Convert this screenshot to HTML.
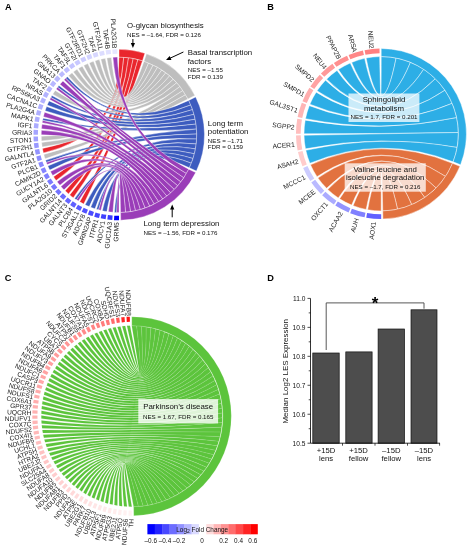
<!DOCTYPE html>
<html lang="en">
<head>
<meta charset="utf-8">
<title>Figure</title>
<style>
html,body{margin:0;padding:0;background:#fff;}
body{width:471px;height:550px;overflow:hidden;font-family:"Liberation Sans",sans-serif;}
svg{display:block;}
svg text{font-family:"Liberation Sans",sans-serif;}
</style>
</head>
<body>
<svg width="471" height="550" viewBox="0 0 471 550" font-family='Liberation Sans, sans-serif'>
<rect width="471" height="550" fill="#fff"/>
<g font-size="9.2" font-weight="bold" fill="#000">
<text x="5" y="9.7">A</text>
<text x="267.2" y="9.7">B</text>
<text x="4.8" y="280.9">C</text>
<text x="267.2" y="280.9">D</text>
</g>
<!-- A -->
<g stroke="#fff" stroke-width="0.38" stroke-linejoin="round">
<g fill="#e9262d">
<path d="M119 57.07Q119 134.8 42.49 148.49A77.73 77.73 0 0 0 43.42 152.95Q119 134.8 123.77 57.22A77.73 77.73 0 0 0 119 57.07Z"/>
<path d="M123.77 57.22Q119 134.8 53.55 176.73A77.73 77.73 0 0 0 56.12 180.49Q119 134.8 128.53 57.66A77.73 77.73 0 0 0 123.77 57.22Z"/>
<path d="M128.53 57.66Q119 134.8 65.15 190.85A77.73 77.73 0 0 0 68.52 193.9Q119 134.8 133.25 58.39A77.73 77.73 0 0 0 128.53 57.66Z"/>
<path d="M133.25 58.39Q119 134.8 69.71 194.9A77.73 77.73 0 0 0 73.31 197.68Q119 134.8 137.91 59.41A77.73 77.73 0 0 0 133.25 58.39Z"/>
<path d="M137.91 59.41Q119 134.8 79.72 201.87A77.73 77.73 0 0 0 83.71 204.06Q119 134.8 142.51 60.71A77.73 77.73 0 0 0 137.91 59.41Z"/>
</g>
<g fill="#bebebe">
<path d="M143.98 61.2Q119 134.8 111.35 57.45A77.73 77.73 0 0 0 106.84 58.03Q119 134.8 148.63 62.94A77.73 77.73 0 0 0 143.98 61.2Z"/>
<path d="M148.63 62.94Q119 134.8 105.31 58.29A77.73 77.73 0 0 0 100.85 59.22Q119 134.8 153.15 64.97A77.73 77.73 0 0 0 148.63 62.94Z"/>
<path d="M153.15 64.97Q119 134.8 99.35 59.6A77.73 77.73 0 0 0 94.98 60.88Q119 134.8 157.53 67.29A77.73 77.73 0 0 0 153.15 64.97Z"/>
<path d="M157.53 67.29Q119 134.8 93.51 61.37A77.73 77.73 0 0 0 89.26 62.99Q119 134.8 161.75 69.89A77.73 77.73 0 0 0 157.53 67.29Z"/>
<path d="M161.75 69.89Q119 134.8 87.82 63.6A77.73 77.73 0 0 0 83.71 65.54Q119 134.8 165.8 72.74A77.73 77.73 0 0 0 161.75 69.89Z"/>
<path d="M165.8 72.74Q119 134.8 82.33 66.26A77.73 77.73 0 0 0 78.39 68.53Q119 134.8 169.66 75.85A77.73 77.73 0 0 0 165.8 72.74Z"/>
<path d="M169.66 75.85Q119 134.8 77.07 69.35A77.73 77.73 0 0 0 73.31 71.92Q119 134.8 173.32 79.2A77.73 77.73 0 0 0 169.66 75.85Z"/>
<path d="M173.32 79.2Q119 134.8 72.06 72.84A77.73 77.73 0 0 0 68.52 75.7Q119 134.8 176.75 82.78A77.73 77.73 0 0 0 173.32 79.2Z"/>
<path d="M176.75 82.78Q119 134.8 55.22 90.38A77.73 77.73 0 0 0 52.73 94.19Q119 134.8 179.95 86.56A77.73 77.73 0 0 0 176.75 82.78Z"/>
<path d="M179.95 86.56Q119 134.8 41.29 136.35A77.73 77.73 0 0 0 41.51 140.9Q119 134.8 182.9 90.55A77.73 77.73 0 0 0 179.95 86.56Z"/>
<path d="M182.9 90.55Q119 134.8 41.65 142.45A77.73 77.73 0 0 0 42.23 146.96Q119 134.8 185.59 94.71A77.73 77.73 0 0 0 182.9 90.55Z"/>
<path d="M185.59 94.71Q119 134.8 43.8 154.45A77.73 77.73 0 0 0 45.08 158.82Q119 134.8 188.01 99.03A77.73 77.73 0 0 0 185.59 94.71Z"/>
</g>
<g fill="#3d5cbf">
<path d="M188.71 100.42Q119 134.8 67.35 76.72A77.73 77.73 0 0 0 65.67 78.25Q119 134.8 190.77 104.95A77.73 77.73 0 0 0 188.71 100.42Z"/>
<path d="M190.77 104.95Q119 134.8 58.9 85.51A77.73 77.73 0 0 0 57.48 87.29Q119 134.8 192.53 109.61A77.73 77.73 0 0 0 190.77 104.95Z"/>
<path d="M192.53 109.61Q119 134.8 51.93 95.52A77.73 77.73 0 0 0 50.81 97.5Q119 134.8 193.99 114.36A77.73 77.73 0 0 0 192.53 109.61Z"/>
<path d="M193.99 114.36Q119 134.8 49.05 100.9A77.73 77.73 0 0 0 47.19 105.06Q119 134.8 195.15 119.2A77.73 77.73 0 0 0 193.99 114.36Z"/>
<path d="M195.15 119.2Q119 134.8 46.61 106.5A77.73 77.73 0 0 0 45.08 110.78Q119 134.8 195.99 124.1A77.73 77.73 0 0 0 195.15 119.2Z"/>
<path d="M195.99 124.1Q119 134.8 43.07 118.17A77.73 77.73 0 0 0 42.62 120.4Q119 134.8 196.51 129.05A77.73 77.73 0 0 0 195.99 124.1Z"/>
<path d="M196.51 129.05Q119 134.8 45.57 160.29A77.73 77.73 0 0 0 46.35 162.43Q119 134.8 196.72 134.02A77.73 77.73 0 0 0 196.51 129.05Z"/>
<path d="M196.72 134.02Q119 134.8 47.8 165.98A77.73 77.73 0 0 0 49.74 170.09Q119 134.8 196.61 139A77.73 77.73 0 0 0 196.72 134.02Z"/>
<path d="M196.61 139Q119 134.8 74.58 198.58A77.73 77.73 0 0 0 76.47 199.86Q119 134.8 196.19 143.95A77.73 77.73 0 0 0 196.61 139Z"/>
<path d="M196.19 143.95Q119 134.8 85.1 204.75A77.73 77.73 0 0 0 89.26 206.61Q119 134.8 195.44 148.87A77.73 77.73 0 0 0 196.19 143.95Z"/>
<path d="M195.44 148.87Q119 134.8 90.7 207.19A77.73 77.73 0 0 0 94.98 208.72Q119 134.8 194.39 153.74A77.73 77.73 0 0 0 195.44 148.87Z"/>
<path d="M194.39 153.74Q119 134.8 96.46 209.19A77.73 77.73 0 0 0 98.65 209.82Q119 134.8 193.02 158.52A77.73 77.73 0 0 0 194.39 153.74Z"/>
<path d="M193.02 158.52Q119 134.8 102.37 210.73A77.73 77.73 0 0 0 106.84 211.57Q119 134.8 191.35 163.21A77.73 77.73 0 0 0 193.02 158.52Z"/>
<path d="M191.35 163.21Q119 134.8 114.45 212.39A77.73 77.73 0 0 0 116.73 212.49Q119 134.8 189.39 167.78A77.73 77.73 0 0 0 191.35 163.21Z"/>
</g>
<g fill="#9a3db8">
<path d="M188.71 169.18Q119 134.8 117.45 57.09A77.73 77.73 0 0 0 112.9 57.31Q119 134.8 186.36 173.58A77.73 77.73 0 0 0 188.71 169.18Z"/>
<path d="M186.36 173.58Q119 134.8 65.67 78.25A77.73 77.73 0 0 0 64.04 79.84Q119 134.8 183.73 177.83A77.73 77.73 0 0 0 186.36 173.58Z"/>
<path d="M183.73 177.83Q119 134.8 62.95 80.95A77.73 77.73 0 0 0 59.9 84.32Q119 134.8 180.83 181.9A77.73 77.73 0 0 0 183.73 177.83Z"/>
<path d="M180.83 181.9Q119 134.8 57.48 87.29A77.73 77.73 0 0 0 56.12 89.11Q119 134.8 177.68 185.77A77.73 77.73 0 0 0 180.83 181.9Z"/>
<path d="M177.68 185.77Q119 134.8 50.81 97.5A77.73 77.73 0 0 0 49.74 99.51Q119 134.8 174.28 189.44A77.73 77.73 0 0 0 177.68 185.77Z"/>
<path d="M174.28 189.44Q119 134.8 44.61 112.26A77.73 77.73 0 0 0 43.42 116.65Q119 134.8 170.66 192.88A77.73 77.73 0 0 0 174.28 189.44Z"/>
<path d="M170.66 192.88Q119 134.8 42.62 120.4A77.73 77.73 0 0 0 42.23 122.64Q119 134.8 166.82 196.07A77.73 77.73 0 0 0 170.66 192.88Z"/>
<path d="M166.82 196.07Q119 134.8 42 124.18A77.73 77.73 0 0 0 41.51 128.7Q119 134.8 162.79 199.02A77.73 77.73 0 0 0 166.82 196.07Z"/>
<path d="M162.79 199.02Q119 134.8 41.41 130.25A77.73 77.73 0 0 0 41.27 134.8Q119 134.8 158.57 201.7A77.73 77.73 0 0 0 162.79 199.02Z"/>
<path d="M158.57 201.7Q119 134.8 46.35 162.43A77.73 77.73 0 0 0 47.19 164.54Q119 134.8 154.2 204.1A77.73 77.73 0 0 0 158.57 201.7Z"/>
<path d="M154.2 204.1Q119 134.8 50.46 171.47A77.73 77.73 0 0 0 52.73 175.41Q119 134.8 149.67 206.22A77.73 77.73 0 0 0 154.2 204.1Z"/>
<path d="M149.67 206.22Q119 134.8 57.04 181.74A77.73 77.73 0 0 0 59.9 185.28Q119 134.8 145.02 208.04A77.73 77.73 0 0 0 149.67 206.22Z"/>
<path d="M145.02 208.04Q119 134.8 60.92 186.45A77.73 77.73 0 0 0 64.04 189.76Q119 134.8 140.26 209.56A77.73 77.73 0 0 0 145.02 208.04Z"/>
<path d="M140.26 209.56Q119 134.8 76.47 199.86A77.73 77.73 0 0 0 78.39 201.07Q119 134.8 135.42 210.77A77.73 77.73 0 0 0 140.26 209.56Z"/>
<path d="M135.42 210.77Q119 134.8 98.65 209.82A77.73 77.73 0 0 0 100.85 210.38Q119 134.8 130.5 211.67A77.73 77.73 0 0 0 135.42 210.77Z"/>
<path d="M130.5 211.67Q119 134.8 108.38 211.8A77.73 77.73 0 0 0 112.9 212.29Q119 134.8 125.54 212.25A77.73 77.73 0 0 0 130.5 211.67Z"/>
<path d="M125.54 212.25Q119 134.8 116.73 212.49A77.73 77.73 0 0 0 119 212.53Q119 134.8 120.55 212.51A77.73 77.73 0 0 0 125.54 212.25Z"/>
</g>
<path fill="#e9262d" d="M119 57.07A77.73 77.73 0 0 1 142.51 60.71L144.86 53.3A85.5 85.5 0 0 0 119 49.3Z"/>
<path fill="#bebebe" d="M143.98 61.2A77.73 77.73 0 0 1 188.01 99.03L194.91 95.46A85.5 85.5 0 0 0 146.48 53.84Z"/>
<path fill="#3d5cbf" d="M188.71 100.42A77.73 77.73 0 0 1 189.39 167.78L196.42 171.07A85.5 85.5 0 0 0 195.68 96.98Z"/>
<path fill="#9a3db8" d="M188.71 169.18A77.73 77.73 0 0 1 120.55 212.51L120.71 220.28A85.5 85.5 0 0 0 195.68 172.62Z"/>
</g>
<g>
<path fill="#e6e6ff" d="M117.38 53.75A81.07 81.07 0 0 0 112.64 53.98L112.29 49.56A85.5 85.5 0 0 1 117.29 49.32Z"/>
<path fill="#e1e1ff" d="M111.02 54.12A81.07 81.07 0 0 0 106.32 54.73L105.62 50.35A85.5 85.5 0 0 1 110.59 49.71Z"/>
<path fill="#dcdcff" d="M104.72 55A81.07 81.07 0 0 0 100.07 55.97L99.04 51.66A85.5 85.5 0 0 1 103.94 50.64Z"/>
<path fill="#d7d7ff" d="M98.5 56.36A81.07 81.07 0 0 0 93.95 57.7L92.58 53.48A85.5 85.5 0 0 1 97.38 52.08Z"/>
<path fill="#d2d2ff" d="M92.41 58.21A81.07 81.07 0 0 0 87.98 59.9L86.28 55.81A85.5 85.5 0 0 1 90.96 54.03Z"/>
<path fill="#cdcdff" d="M86.48 60.54A81.07 81.07 0 0 0 82.2 62.57L80.18 58.62A85.5 85.5 0 0 1 84.71 56.48Z"/>
<path fill="#c9c9ff" d="M80.76 63.32A81.07 81.07 0 0 0 76.64 65.68L74.33 61.9A85.5 85.5 0 0 1 78.67 59.41Z"/>
<path fill="#c4c4ff" d="M75.27 66.54A81.07 81.07 0 0 0 71.35 69.21L68.74 65.63A85.5 85.5 0 0 1 72.88 62.81Z"/>
<path fill="#bfbfff" d="M70.05 70.18A81.07 81.07 0 0 0 66.35 73.15L63.47 69.79A85.5 85.5 0 0 1 67.37 66.65Z"/>
<path fill="#babaff" d="M65.13 74.22A81.07 81.07 0 0 0 61.68 77.48L58.54 74.34A85.5 85.5 0 0 1 62.18 70.91Z"/>
<path fill="#b8b8ff" d="M60.54 78.63A81.07 81.07 0 0 0 57.35 82.15L53.99 79.27A85.5 85.5 0 0 1 57.35 75.56Z"/>
<path fill="#b7b7ff" d="M56.31 83.39A81.07 81.07 0 0 0 53.41 87.15L49.83 84.54A85.5 85.5 0 0 1 52.89 80.58Z"/>
<path fill="#b5b5ff" d="M52.47 88.47A81.07 81.07 0 0 0 49.88 92.44L46.1 90.13A85.5 85.5 0 0 1 48.84 85.94Z"/>
<path fill="#b3b3ff" d="M49.04 93.83A81.07 81.07 0 0 0 46.77 98L42.82 95.98A85.5 85.5 0 0 1 45.22 91.59Z"/>
<path fill="#b2b2ff" d="M46.04 99.45A81.07 81.07 0 0 0 44.1 103.78L40.01 102.08A85.5 85.5 0 0 1 42.06 97.52Z"/>
<path fill="#b0b0ff" d="M43.5 105.28A81.07 81.07 0 0 0 41.9 109.75L37.68 108.38A85.5 85.5 0 0 1 39.37 103.67Z"/>
<path fill="#aeaeff" d="M41.41 111.3A81.07 81.07 0 0 0 40.17 115.87L35.86 114.84A85.5 85.5 0 0 1 37.17 110.01Z"/>
<path fill="#adadff" d="M39.81 117.45A81.07 81.07 0 0 0 38.93 122.12L34.55 121.42A85.5 85.5 0 0 1 35.48 116.51Z"/>
<path fill="#ababff" d="M38.69 123.72A81.07 81.07 0 0 0 38.18 128.44L33.76 128.09A85.5 85.5 0 0 1 34.3 123.12Z"/>
<path fill="#a5a5ff" d="M38.07 130.06A81.07 81.07 0 0 0 37.93 134.8L33.5 134.8A85.5 85.5 0 0 1 33.65 129.8Z"/>
<path fill="#9f9fff" d="M37.95 136.42A81.07 81.07 0 0 0 38.18 141.16L33.76 141.51A85.5 85.5 0 0 1 33.52 136.51Z"/>
<path fill="#9898ff" d="M38.32 142.78A81.07 81.07 0 0 0 38.93 147.48L34.55 148.18A85.5 85.5 0 0 1 33.91 143.21Z"/>
<path fill="#9292ff" d="M39.2 149.08A81.07 81.07 0 0 0 40.17 153.73L35.86 154.76A85.5 85.5 0 0 1 34.84 149.86Z"/>
<path fill="#8c8cff" d="M40.56 155.3A81.07 81.07 0 0 0 41.9 159.85L37.68 161.22A85.5 85.5 0 0 1 36.28 156.42Z"/>
<path fill="#8888ff" d="M42.41 161.39A81.07 81.07 0 0 0 44.1 165.82L40.01 167.52A85.5 85.5 0 0 1 38.23 162.84Z"/>
<path fill="#8484ff" d="M44.74 167.32A81.07 81.07 0 0 0 46.77 171.6L42.82 173.62A85.5 85.5 0 0 1 40.68 169.09Z"/>
<path fill="#8080ff" d="M47.52 173.04A81.07 81.07 0 0 0 49.88 177.16L46.1 179.47A85.5 85.5 0 0 1 43.61 175.13Z"/>
<path fill="#7b7bff" d="M50.74 178.53A81.07 81.07 0 0 0 53.41 182.45L49.83 185.06A85.5 85.5 0 0 1 47.01 180.92Z"/>
<path fill="#7777ff" d="M54.38 183.75A81.07 81.07 0 0 0 57.35 187.45L53.99 190.33A85.5 85.5 0 0 1 50.85 186.43Z"/>
<path fill="#7373ff" d="M58.42 188.67A81.07 81.07 0 0 0 61.68 192.12L58.54 195.26A85.5 85.5 0 0 1 55.11 191.62Z"/>
<path fill="#6c6cff" d="M62.83 193.26A81.07 81.07 0 0 0 66.35 196.45L63.47 199.81A85.5 85.5 0 0 1 59.76 196.45Z"/>
<path fill="#6666ff" d="M67.59 197.49A81.07 81.07 0 0 0 71.35 200.39L68.74 203.97A85.5 85.5 0 0 1 64.78 200.91Z"/>
<path fill="#5f5fff" d="M72.67 201.33A81.07 81.07 0 0 0 76.64 203.92L74.33 207.7A85.5 85.5 0 0 1 70.14 204.96Z"/>
<path fill="#5959ff" d="M78.03 204.76A81.07 81.07 0 0 0 82.2 207.03L80.18 210.98A85.5 85.5 0 0 1 75.79 208.58Z"/>
<path fill="#5252ff" d="M83.65 207.76A81.07 81.07 0 0 0 87.98 209.7L86.28 213.79A85.5 85.5 0 0 1 81.72 211.74Z"/>
<path fill="#4c4cff" d="M89.48 210.3A81.07 81.07 0 0 0 93.95 211.9L92.58 216.12A85.5 85.5 0 0 1 87.87 214.43Z"/>
<path fill="#4545ff" d="M95.5 212.39A81.07 81.07 0 0 0 100.07 213.63L99.04 217.94A85.5 85.5 0 0 1 94.21 216.63Z"/>
<path fill="#3f3fff" d="M101.65 213.99A81.07 81.07 0 0 0 106.32 214.87L105.62 219.25A85.5 85.5 0 0 1 100.71 218.32Z"/>
<path fill="#3838ff" d="M107.92 215.11A81.07 81.07 0 0 0 112.64 215.62L112.29 220.04A85.5 85.5 0 0 1 107.32 219.5Z"/>
<path fill="#0000ff" d="M114.26 215.73A81.07 81.07 0 0 0 119 215.87L119 220.3A85.5 85.5 0 0 1 114 220.15Z"/>
</g>
<g font-size="6.7" fill="#1a1a1a" text-anchor="end">
<text transform="translate(114.72 48.41) rotate(87.18)" y="2.41">PLA2G1B</text>
<text transform="translate(107.91 49.01) rotate(82.68)" y="2.41">TAF4B</text>
<text transform="translate(101.17 50.15) rotate(78.18)" y="2.41">GTF2A1L</text>
<text transform="translate(94.55 51.81) rotate(73.68)" y="2.41">TAF4</text>
<text transform="translate(88.07 53.98) rotate(69.18)" y="2.41">GTF2H2</text>
<text transform="translate(81.79 56.66) rotate(64.68)" y="2.41">GTF2IRD1</text>
<text transform="translate(75.73 59.82) rotate(60.18)" y="2.41">GTF2I</text>
<text transform="translate(69.94 63.45) rotate(55.68)" y="2.41">TAF5L</text>
<text transform="translate(64.46 67.52) rotate(51.18)" y="2.41">TAF1</text>
<text transform="translate(59.31 72.01) rotate(46.68)" y="2.41">PRKCA</text>
<text transform="translate(54.53 76.89) rotate(42.18)" y="2.41">GNA13</text>
<text transform="translate(50.14 82.12) rotate(37.68)" y="2.41">GNAO</text>
<text transform="translate(46.18 87.69) rotate(33.18)" y="2.41">TAF2</text>
<text transform="translate(42.67 93.55) rotate(28.68)" y="2.41">NRAS</text>
<text transform="translate(39.63 99.67) rotate(24.18)" y="2.41">RPS6KA3</text>
<text transform="translate(37.08 106.01) rotate(19.68)" y="2.41">CACNA1C</text>
<text transform="translate(35.03 112.52) rotate(15.18)" y="2.41">PLA2G4A</text>
<text transform="translate(33.51 119.18) rotate(10.68)" y="2.41">MAPK1</text>
<text transform="translate(32.51 125.94) rotate(6.18)" y="2.41">IGF1</text>
<text transform="translate(32.04 132.75) rotate(1.68)" y="2.41">GRIA3</text>
<text transform="translate(32.11 139.58) rotate(-2.82)" y="2.41">STON1</text>
<text transform="translate(32.71 146.39) rotate(-7.32)" y="2.41">GTF2H1</text>
<text transform="translate(33.85 153.13) rotate(-11.82)" y="2.41">GALNTL4</text>
<text transform="translate(35.51 159.75) rotate(-16.32)" y="2.41">GTF2A1</text>
<text transform="translate(37.68 166.23) rotate(-20.82)" y="2.41">PLCB1</text>
<text transform="translate(40.36 172.51) rotate(-25.32)" y="2.41">CAMK2D</text>
<text transform="translate(43.52 178.57) rotate(-29.82)" y="2.41">GUCY1A2</text>
<text transform="translate(47.15 184.36) rotate(-34.32)" y="2.41">GALNTL6</text>
<text transform="translate(51.22 189.84) rotate(-38.82)" y="2.41">PLA2G10</text>
<text transform="translate(55.71 194.99) rotate(-43.32)" y="2.41">GRID2</text>
<text transform="translate(60.59 199.77) rotate(-47.82)" y="2.41">GALNT14</text>
<text transform="translate(65.82 204.16) rotate(-52.32)" y="2.41">GALNT3</text>
<text transform="translate(71.39 208.12) rotate(-56.82)" y="2.41">PLCB4</text>
<text transform="translate(77.25 211.63) rotate(-61.32)" y="2.41">ST3GAL1</text>
<text transform="translate(83.37 214.67) rotate(-65.82)" y="2.41">ADCY8</text>
<text transform="translate(89.71 217.22) rotate(-70.32)" y="2.41">GRIN2AP</text>
<text transform="translate(96.22 219.27) rotate(-74.82)" y="2.41">ITPR1</text>
<text transform="translate(102.88 220.79) rotate(-79.32)" y="2.41">ADCY1</text>
<text transform="translate(109.64 221.79) rotate(-83.82)" y="2.41">GUC1A3</text>
<text transform="translate(116.45 222.26) rotate(-88.32)" y="2.41">GRM5</text>
</g>
<!-- B -->
<g stroke="#fff" stroke-width="0.45" stroke-linejoin="round">
<g fill="#2daee6">
<path d="M381.2 56.55Q381.2 133.75 379.66 56.57A77.2 77.2 0 0 0 366.14 58.03Q381.2 133.75 396.11 58A77.2 77.2 0 0 0 381.2 56.55Z"/>
<path d="M396.11 58Q381.2 133.75 364.63 58.35A77.2 77.2 0 0 0 351.66 62.43Q381.2 133.75 410.46 62.31A77.2 77.2 0 0 0 396.11 58Z"/>
<path d="M410.46 62.31Q381.2 133.75 350.24 63.03A77.2 77.2 0 0 0 338.31 69.56Q381.2 133.75 423.7 69.3A77.2 77.2 0 0 0 410.46 62.31Z"/>
<path d="M423.7 69.3Q381.2 133.75 337.03 70.43A77.2 77.2 0 0 0 326.61 79.16Q381.2 133.75 435.35 78.73A77.2 77.2 0 0 0 423.7 69.3Z"/>
<path d="M435.35 78.73Q381.2 133.75 325.53 80.26A77.2 77.2 0 0 0 317.01 90.86Q381.2 133.75 444.96 90.22A77.2 77.2 0 0 0 435.35 78.73Z"/>
<path d="M444.96 90.22Q381.2 133.75 316.17 92.15A77.2 77.2 0 0 0 309.88 104.21Q381.2 133.75 452.16 103.35A77.2 77.2 0 0 0 444.96 90.22Z"/>
<path d="M452.16 103.35Q381.2 133.75 309.3 105.64A77.2 77.2 0 0 0 305.48 118.69Q381.2 133.75 456.7 117.63A77.2 77.2 0 0 0 452.16 103.35Z"/>
<path d="M456.7 117.63Q381.2 133.75 305.2 120.21A77.2 77.2 0 0 0 304 133.75Q381.2 133.75 458.39 132.51A77.2 77.2 0 0 0 456.7 117.63Z"/>
<path d="M458.39 132.51Q381.2 133.75 304.02 135.29A77.2 77.2 0 0 0 305.48 148.81Q381.2 133.75 457.18 147.45A77.2 77.2 0 0 0 458.39 132.51Z"/>
<path d="M457.18 147.45Q381.2 133.75 305.8 150.32A77.2 77.2 0 0 0 309.88 163.29Q381.2 133.75 453.1 161.86A77.2 77.2 0 0 0 457.18 147.45Z"/>
</g>
<g fill="#e2723f">
<path d="M452.52 163.29Q381.2 133.75 310.48 164.71A77.2 77.2 0 0 0 317.01 176.64Q381.2 133.75 445.53 176.43A77.2 77.2 0 0 0 452.52 163.29Z"/>
<path d="M445.53 176.43Q381.2 133.75 317.88 177.92A77.2 77.2 0 0 0 326.61 188.34Q381.2 133.75 436.15 187.97A77.2 77.2 0 0 0 445.53 176.43Z"/>
<path d="M436.15 187.97Q381.2 133.75 327.71 189.42A77.2 77.2 0 0 0 338.31 197.94Q381.2 133.75 424.73 197.51A77.2 77.2 0 0 0 436.15 187.97Z"/>
<path d="M424.73 197.51Q381.2 133.75 339.6 198.78A77.2 77.2 0 0 0 351.66 205.07Q381.2 133.75 411.69 204.67A77.2 77.2 0 0 0 424.73 197.51Z"/>
<path d="M411.69 204.67Q381.2 133.75 353.09 205.65A77.2 77.2 0 0 0 366.14 209.47Q381.2 133.75 397.52 209.21A77.2 77.2 0 0 0 411.69 204.67Z"/>
<path d="M397.52 209.21Q381.2 133.75 367.66 209.75A77.2 77.2 0 0 0 381.2 210.95Q381.2 133.75 382.74 210.93A77.2 77.2 0 0 0 397.52 209.21Z"/>
</g>
<path fill="#2daee6" d="M381.2 56.55A77.2 77.2 0 0 1 453.1 161.86L460.58 164.78A85.23 85.23 0 0 0 381.2 48.52Z"/>
<path fill="#e2723f" d="M452.52 163.29A77.2 77.2 0 0 1 382.74 210.93L382.9 218.96A85.23 85.23 0 0 0 459.94 166.37Z"/>
</g>
<g>
<path fill="#ff8080" d="M379.59 53.25A80.52 80.52 0 0 0 365.49 54.78L364.57 50.16A85.23 85.23 0 0 1 379.5 48.54Z"/>
<path fill="#ff8787" d="M363.92 55.11A80.52 80.52 0 0 0 350.39 59.36L348.58 55.01A85.23 85.23 0 0 1 362.9 50.51Z"/>
<path fill="#ff8f8f" d="M348.9 59.99A80.52 80.52 0 0 0 336.47 66.8L333.85 62.88A85.23 85.23 0 0 1 347.02 55.68Z"/>
<path fill="#ff9999" d="M335.14 67.71A80.52 80.52 0 0 0 324.26 76.81L320.93 73.48A85.23 85.23 0 0 1 332.44 63.85Z"/>
<path fill="#ffa3a3" d="M323.14 77.96A80.52 80.52 0 0 0 314.25 89.02L310.33 86.4A85.23 85.23 0 0 1 319.74 74.7Z"/>
<path fill="#ffadad" d="M313.37 90.36A80.52 80.52 0 0 0 306.81 102.94L302.46 101.13A85.23 85.23 0 0 1 309.4 87.83Z"/>
<path fill="#ffb5b5" d="M306.21 104.43A80.52 80.52 0 0 0 302.23 118.04L297.61 117.12A85.23 85.23 0 0 1 301.82 102.72Z"/>
<path fill="#ffbdbd" d="M301.93 119.62A80.52 80.52 0 0 0 300.68 133.75L295.97 133.75A85.23 85.23 0 0 1 297.29 118.8Z"/>
<path fill="#ffc4c4" d="M300.7 135.36A80.52 80.52 0 0 0 302.23 149.46L297.61 150.38A85.23 85.23 0 0 1 295.99 135.45Z"/>
<path fill="#ffcccc" d="M302.56 151.03A80.52 80.52 0 0 0 306.81 164.56L302.46 166.37A85.23 85.23 0 0 1 297.96 152.05Z"/>
<path fill="#ccccff" d="M307.44 166.05A80.52 80.52 0 0 0 314.25 178.48L310.33 181.1A85.23 85.23 0 0 1 303.13 167.93Z"/>
<path fill="#babaff" d="M315.16 179.81A80.52 80.52 0 0 0 324.26 190.69L320.93 194.02A85.23 85.23 0 0 1 311.3 182.51Z"/>
<path fill="#ababff" d="M325.41 191.81A80.52 80.52 0 0 0 336.47 200.7L333.85 204.62A85.23 85.23 0 0 1 322.15 195.21Z"/>
<path fill="#9494ff" d="M337.81 201.58A80.52 80.52 0 0 0 350.39 208.14L348.58 212.49A85.23 85.23 0 0 1 335.28 205.55Z"/>
<path fill="#8080ff" d="M351.88 208.74A80.52 80.52 0 0 0 365.49 212.72L364.57 217.34A85.23 85.23 0 0 1 350.17 213.13Z"/>
<path fill="#6161ff" d="M367.07 213.02A80.52 80.52 0 0 0 381.2 214.27L381.2 218.98A85.23 85.23 0 0 1 366.25 217.66Z"/>
</g>
<g font-size="6.7" fill="#1a1a1a" text-anchor="end">
<text transform="translate(371.81 48.53) rotate(85.8)" y="2.41">NEU2</text>
<text transform="translate(355.12 52.02) rotate(74.55)" y="2.41">ARSA</text>
<text transform="translate(339.43 58.71) rotate(63.3)" y="2.41">PPAP2B</text>
<text transform="translate(325.35 68.32) rotate(52.05)" y="2.41">NEU4</text>
<text transform="translate(313.42 80.5) rotate(40.8)" y="2.41">SMPD2</text>
<text transform="translate(304.09 94.77) rotate(29.55)" y="2.41">SMPD1</text>
<text transform="translate(297.72 110.58) rotate(18.3)" y="2.41">GAL3ST1</text>
<text transform="translate(294.56 127.34) rotate(7.05)" y="2.41">SGPP2</text>
<text transform="translate(294.73 144.39) rotate(-4.2)" y="2.41">ACER1</text>
<text transform="translate(298.22 161.08) rotate(-15.45)" y="2.41">ASAH2</text>
<text transform="translate(304.91 176.77) rotate(-26.7)" y="2.41">MCCC1</text>
<text transform="translate(314.52 190.85) rotate(-37.95)" y="2.41">MCEE</text>
<text transform="translate(326.7 202.78) rotate(-49.2)" y="2.41">OXCT1</text>
<text transform="translate(340.97 212.11) rotate(-60.45)" y="2.41">ACAA2</text>
<text transform="translate(356.78 218.48) rotate(-71.7)" y="2.41">AUH</text>
<text transform="translate(373.54 221.64) rotate(-82.95)" y="2.41">AOX1</text>
</g>
<!-- C -->
<g stroke="#fff" stroke-width="0.18" stroke-linejoin="round">
<g fill="#5cc43c" stroke="#5cc43c" stroke-width="0.1">
<path d="M131.8 325.75Q147.18 416.2 129.99 325.76A90.45 90.45 0 0 0 126.99 325.87Q147.16 417.01 136.58 325.87A90.45 90.45 0 0 0 131.8 325.75Z"/>
<path d="M136.58 325.87Q147.16 417.01 125.18 325.99A90.45 90.45 0 0 0 122.19 326.26Q147.09 417.82 141.35 326.25A90.45 90.45 0 0 0 136.58 325.87Z"/>
<path d="M141.35 326.25Q147.09 417.82 120.39 326.47A90.45 90.45 0 0 0 117.41 326.9Q146.98 418.63 146.1 326.88A90.45 90.45 0 0 0 141.35 326.25Z"/>
<path d="M146.1 326.88Q146.98 418.63 115.63 327.2A90.45 90.45 0 0 0 112.68 327.79Q146.83 419.43 150.8 327.76A90.45 90.45 0 0 0 146.1 326.88Z"/>
<path d="M150.8 327.76Q146.83 419.43 110.92 328.19A90.45 90.45 0 0 0 108 328.93Q146.64 420.22 155.45 328.89A90.45 90.45 0 0 0 150.8 327.76Z"/>
<path d="M155.45 328.89Q146.64 420.22 106.26 329.43A90.45 90.45 0 0 0 103.39 330.32Q146.41 421 160.03 330.27A90.45 90.45 0 0 0 155.45 328.89Z"/>
<path d="M160.03 330.27Q146.41 421 101.68 330.91A90.45 90.45 0 0 0 98.86 331.96Q146.13 421.77 164.54 331.88A90.45 90.45 0 0 0 160.03 330.27Z"/>
<path d="M164.54 331.88Q146.13 421.77 97.18 332.63A90.45 90.45 0 0 0 94.42 333.83Q145.82 422.52 168.95 333.73A90.45 90.45 0 0 0 164.54 331.88Z"/>
<path d="M168.95 333.73Q145.82 422.52 92.78 334.59A90.45 90.45 0 0 0 90.09 335.93Q145.47 423.25 173.26 335.81A90.45 90.45 0 0 0 168.95 333.73Z"/>
<path d="M173.26 335.81Q145.47 423.25 88.5 336.79A90.45 90.45 0 0 0 85.88 338.27Q145.07 423.96 177.46 338.11A90.45 90.45 0 0 0 173.26 335.81Z"/>
<path d="M177.46 338.11Q145.07 423.96 84.33 339.2A90.45 90.45 0 0 0 81.8 340.82Q144.65 424.65 181.52 340.64A90.45 90.45 0 0 0 177.46 338.11Z"/>
<path d="M181.52 340.64Q144.65 424.65 80.3 341.84A90.45 90.45 0 0 0 77.86 343.59Q144.18 425.32 185.45 343.37A90.45 90.45 0 0 0 181.52 340.64Z"/>
<path d="M185.45 343.37Q144.18 425.32 76.41 344.68A90.45 90.45 0 0 0 74.07 346.57Q143.68 425.96 189.22 346.31A90.45 90.45 0 0 0 185.45 343.37Z"/>
<path d="M189.22 346.31Q143.68 425.96 72.69 347.73A90.45 90.45 0 0 0 70.44 349.74Q143.15 426.58 192.84 349.45A90.45 90.45 0 0 0 189.22 346.31Z"/>
<path d="M192.84 349.45Q143.15 426.58 69.13 350.98A90.45 90.45 0 0 0 66.99 353.1Q142.58 427.16 196.29 352.77A90.45 90.45 0 0 0 192.84 349.45Z"/>
<path d="M196.29 352.77Q142.58 427.16 65.74 354.4A90.45 90.45 0 0 0 63.73 356.63Q141.99 427.72 199.55 356.27A90.45 90.45 0 0 0 196.29 352.77Z"/>
<path d="M199.55 356.27Q141.99 427.72 62.55 358.01A90.45 90.45 0 0 0 60.65 360.34Q141.37 428.24 202.62 359.93A90.45 90.45 0 0 0 199.55 356.27Z"/>
<path d="M202.62 359.93Q141.37 428.24 59.55 361.78A90.45 90.45 0 0 0 57.78 364.21Q140.72 428.73 205.5 363.76A90.45 90.45 0 0 0 202.62 359.93Z"/>
<path d="M205.5 363.76Q140.72 428.73 56.76 365.7A90.45 90.45 0 0 0 55.12 368.22Q140.04 429.18 208.17 367.73A90.45 90.45 0 0 0 205.5 363.76Z"/>
<path d="M208.17 367.73Q140.04 429.18 54.17 369.76A90.45 90.45 0 0 0 52.67 372.37Q139.34 429.6 210.63 371.83A90.45 90.45 0 0 0 208.17 367.73Z"/>
<path d="M210.63 371.83Q139.34 429.6 51.81 373.96A90.45 90.45 0 0 0 50.45 376.64Q138.62 429.98 212.86 376.07A90.45 90.45 0 0 0 210.63 371.83Z"/>
<path d="M212.86 376.07Q138.62 429.98 49.68 378.28A90.45 90.45 0 0 0 48.46 381.03Q137.88 430.32 214.87 380.41A90.45 90.45 0 0 0 212.86 376.07Z"/>
<path d="M214.87 380.41Q137.88 430.32 47.78 382.7A90.45 90.45 0 0 0 46.71 385.51Q137.13 430.62 216.65 384.85A90.45 90.45 0 0 0 214.87 380.41Z"/>
<path d="M216.65 384.85Q137.13 430.62 46.11 387.22A90.45 90.45 0 0 0 45.2 390.09Q136.36 430.89 218.19 389.38A90.45 90.45 0 0 0 216.65 384.85Z"/>
<path d="M218.19 389.38Q136.36 430.89 44.69 391.82A90.45 90.45 0 0 0 43.93 394.73Q135.58 431.11 219.49 393.99A90.45 90.45 0 0 0 218.19 389.38Z"/>
<path d="M219.49 393.99Q135.58 431.11 43.52 396.49A90.45 90.45 0 0 0 42.91 399.44Q134.78 431.29 220.54 398.66A90.45 90.45 0 0 0 219.49 393.99Z"/>
<path d="M220.54 398.66Q134.78 431.29 42.59 401.22A90.45 90.45 0 0 0 42.15 404.19Q133.98 431.42 221.34 403.37A90.45 90.45 0 0 0 220.54 398.66Z"/>
<path d="M221.34 403.37Q133.98 431.42 41.92 405.99A90.45 90.45 0 0 0 41.63 408.98Q133.17 431.52 221.89 408.13A90.45 90.45 0 0 0 221.34 403.37Z"/>
<path d="M221.89 408.13Q133.17 431.52 41.51 410.79A90.45 90.45 0 0 0 41.38 413.79Q132.36 431.57 222.19 412.9A90.45 90.45 0 0 0 221.89 408.13Z"/>
<path d="M222.19 412.9Q132.36 431.57 41.35 415.6A90.45 90.45 0 0 0 41.38 418.61Q131.55 431.58 222.24 417.69A90.45 90.45 0 0 0 222.19 412.9Z"/>
<path d="M222.24 417.69Q131.55 431.58 41.44 420.42A90.45 90.45 0 0 0 41.63 423.42Q130.73 431.54 222.04 422.47A90.45 90.45 0 0 0 222.24 417.69Z"/>
<path d="M222.04 422.47Q130.73 431.54 41.8 425.22A90.45 90.45 0 0 0 42.15 428.21Q129.92 431.46 221.58 427.23A90.45 90.45 0 0 0 222.04 422.47Z"/>
<path d="M221.58 427.23Q129.92 431.46 42.4 430A90.45 90.45 0 0 0 42.91 432.96Q129.12 431.34 220.87 431.96A90.45 90.45 0 0 0 221.58 427.23Z"/>
<path d="M220.87 431.96Q129.12 431.34 43.26 434.73A90.45 90.45 0 0 0 43.93 437.67Q128.32 431.18 219.91 436.65A90.45 90.45 0 0 0 220.87 431.96Z"/>
<path d="M219.91 436.65Q128.32 431.18 44.38 439.42A90.45 90.45 0 0 0 45.2 442.31Q127.54 430.97 218.71 441.28A90.45 90.45 0 0 0 219.91 436.65Z"/>
<path d="M218.71 441.28Q127.54 430.97 45.74 444.04A90.45 90.45 0 0 0 46.71 446.89Q126.76 430.73 217.26 445.85A90.45 90.45 0 0 0 218.71 441.28Z"/>
<path d="M217.26 445.85Q126.76 430.73 47.34 448.58A90.45 90.45 0 0 0 48.46 451.37Q126 430.44 215.57 450.32A90.45 90.45 0 0 0 217.26 445.85Z"/>
<path d="M215.57 450.32Q126 430.44 49.18 453.03A90.45 90.45 0 0 0 50.45 455.76Q125.25 430.11 213.65 454.71A90.45 90.45 0 0 0 215.57 450.32Z"/>
<path d="M213.65 454.71Q125.25 430.11 51.26 457.38A90.45 90.45 0 0 0 52.67 460.03Q124.53 429.75 211.5 458.98A90.45 90.45 0 0 0 213.65 454.71Z"/>
<path d="M211.5 458.98Q124.53 429.75 53.57 461.6A90.45 90.45 0 0 0 55.12 464.18Q123.82 429.35 209.12 463.13A90.45 90.45 0 0 0 211.5 458.98Z"/>
<path d="M209.12 463.13Q123.82 429.35 56.09 465.7A90.45 90.45 0 0 0 57.78 468.19Q123.14 428.9 206.53 467.16A90.45 90.45 0 0 0 209.12 463.13Z"/>
<path d="M206.53 467.16Q123.14 428.9 58.84 469.66A90.45 90.45 0 0 0 60.65 472.06Q122.48 428.43 203.74 471.04A90.45 90.45 0 0 0 206.53 467.16Z"/>
<path d="M203.74 471.04Q122.48 428.43 61.78 473.47A90.45 90.45 0 0 0 63.73 475.77Q121.84 427.92 200.73 474.77A90.45 90.45 0 0 0 203.74 471.04Z"/>
<path d="M200.73 474.77Q121.84 427.92 64.93 477.11A90.45 90.45 0 0 0 66.99 479.3Q121.24 427.38 197.54 478.33A90.45 90.45 0 0 0 200.73 474.77Z"/>
<path d="M197.54 478.33Q121.24 427.38 68.27 480.59A90.45 90.45 0 0 0 70.44 482.66Q120.66 426.8 194.16 481.72A90.45 90.45 0 0 0 197.54 478.33Z"/>
<path d="M194.16 481.72Q120.66 426.8 71.79 483.88A90.45 90.45 0 0 0 74.07 485.83Q120.12 426.2 190.61 484.93A90.45 90.45 0 0 0 194.16 481.72Z"/>
<path d="M190.61 484.93Q120.12 426.2 75.47 486.98A90.45 90.45 0 0 0 77.86 488.81Q119.6 425.57 186.89 487.94A90.45 90.45 0 0 0 190.61 484.93Z"/>
<path d="M186.89 487.94Q119.6 425.57 79.32 489.87A90.45 90.45 0 0 0 81.8 491.58Q119.13 424.91 183.02 490.75A90.45 90.45 0 0 0 186.89 487.94Z"/>
<path d="M183.02 490.75Q119.13 424.91 83.31 492.56A90.45 90.45 0 0 0 85.88 494.13Q118.68 424.23 179.01 493.36A90.45 90.45 0 0 0 183.02 490.75Z"/>
<path d="M179.01 493.36Q118.68 424.23 87.45 495.03A90.45 90.45 0 0 0 90.09 496.47Q118.28 423.52 174.86 495.75A90.45 90.45 0 0 0 179.01 493.36Z"/>
<path d="M174.86 495.75Q118.28 423.52 91.71 497.28A90.45 90.45 0 0 0 94.42 498.57Q117.91 422.8 170.6 497.91A90.45 90.45 0 0 0 174.86 495.75Z"/>
<path d="M170.6 497.91Q117.91 422.8 96.08 499.3A90.45 90.45 0 0 0 98.86 500.44Q117.58 422.05 166.22 499.85A90.45 90.45 0 0 0 170.6 497.91Z"/>
<path d="M166.22 499.85Q117.58 422.05 100.55 501.09A90.45 90.45 0 0 0 103.39 502.08Q117.29 421.29 161.75 501.55A90.45 90.45 0 0 0 166.22 499.85Z"/>
<path d="M161.75 501.55Q117.29 421.29 105.11 502.63A90.45 90.45 0 0 0 108 503.47Q117.04 420.52 157.19 503.02A90.45 90.45 0 0 0 161.75 501.55Z"/>
<path d="M157.19 503.02Q117.04 420.52 109.75 503.93A90.45 90.45 0 0 0 112.68 504.61Q116.83 419.73 152.57 504.24A90.45 90.45 0 0 0 157.19 503.02Z"/>
<path d="M152.57 504.24Q116.83 419.73 114.45 504.98A90.45 90.45 0 0 0 117.41 505.5Q116.67 418.93 147.88 505.21A90.45 90.45 0 0 0 152.57 504.24Z"/>
<path d="M147.88 505.21Q116.67 418.93 119.2 505.77A90.45 90.45 0 0 0 122.19 506.14Q116.54 418.13 143.15 505.94A90.45 90.45 0 0 0 147.88 505.21Z"/>
<path d="M143.15 505.94Q116.54 418.13 123.99 506.32A90.45 90.45 0 0 0 126.99 506.53Q116.46 417.32 138.39 506.41A90.45 90.45 0 0 0 143.15 505.94Z"/>
<path d="M138.39 506.41Q116.46 417.32 128.79 506.6A90.45 90.45 0 0 0 131.8 506.65Q116.43 416.51 133.61 506.64A90.45 90.45 0 0 0 138.39 506.41Z"/>
</g>
<path d="M136.58 325.87Q141.87 371.44 139.47 371.44M141.35 326.25Q144.22 372.04 139.43 372.04M146.1 326.88Q146.54 372.76 139.37 372.76M150.8 327.76Q148.82 373.6 139.29 373.6M155.45 328.89Q151.05 374.56 139.18 374.57M160.03 330.27Q153.22 375.63 139.06 375.65M164.54 331.88Q155.34 376.82 138.92 376.84M168.95 333.73Q157.39 378.12 138.75 378.15M173.26 335.81Q159.36 379.53 138.57 379.56M177.46 338.11Q161.27 381.04 138.37 381.08M181.52 340.64Q163.08 382.64 138.15 382.69M185.45 343.37Q164.81 384.35 137.92 384.4M189.22 346.31Q166.45 386.14 137.66 386.2M192.84 349.45Q167.99 388.01 137.4 388.08M196.29 352.77Q169.43 389.96 137.11 390.05M199.55 356.27Q170.77 391.99 136.81 392.08M202.62 359.93Q171.99 394.09 136.5 394.19M205.5 363.76Q173.11 396.24 136.18 396.36M208.17 367.73Q174.11 398.46 135.84 398.58M210.63 371.83Q174.98 400.72 135.5 400.85M212.86 376.07Q175.74 403.02 135.14 403.17M214.87 380.41Q176.38 405.37 134.78 405.52M216.65 384.85Q176.89 407.74 134.4 407.9M218.19 389.38Q177.27 410.13 134.03 410.31M219.49 393.99Q177.53 412.55 133.64 412.73M220.54 398.66Q177.66 414.97 133.25 415.17M221.34 403.37Q177.66 417.4 132.86 417.6M221.89 408.13Q177.53 419.82 132.47 420.04M222.19 412.9Q177.28 422.24 132.07 422.46M222.24 417.69Q176.89 424.63 131.68 424.86M222.04 422.47Q176.39 427 131.28 427.24M221.58 427.23Q175.75 429.35 130.89 429.59M220.87 431.96Q175 431.65 130.51 431.9M219.91 436.65Q174.12 433.92 130.12 434.17M218.71 441.28Q173.12 436.13 129.74 436.39M217.26 445.85Q172.01 438.29 129.37 438.55M215.57 450.32Q170.79 440.38 129.01 440.64M213.65 454.71Q169.45 442.41 128.65 442.67M211.5 458.98Q168.01 444.36 128.31 444.63M209.12 463.13Q166.47 446.24 127.97 446.5M206.53 467.16Q164.84 448.03 127.65 448.29M203.74 471.04Q163.11 449.73 127.34 449.99M200.73 474.77Q161.29 451.34 127.04 451.59M197.54 478.33Q159.39 452.85 126.75 453.1M194.16 481.72Q157.41 454.26 126.48 454.5M190.61 484.93Q155.36 455.56 126.23 455.79M186.89 487.94Q153.25 456.75 125.99 456.97M183.02 490.75Q151.07 457.83 125.77 458.04M179.01 493.36Q148.85 458.79 125.56 458.99M174.86 495.75Q146.57 459.63 125.38 459.81M170.6 497.91Q144.25 460.35 125.21 460.52M166.22 499.85Q141.9 460.95 125.06 461.1M161.75 501.55Q139.52 461.42 124.93 461.55M157.19 503.02Q137.12 461.77 124.82 461.88M152.57 504.24Q134.7 461.98 124.73 462.08M147.88 505.21Q132.27 462.07 124.66 462.15M143.15 505.94Q129.85 462.03 124.61 462.09M138.39 506.41Q127.43 461.87 124.58 461.9M133.61 506.64Q125.02 461.57 124.57 461.58" fill="none" stroke="#fff" stroke-opacity="0.45" stroke-width="0.35"/>
<path fill="#5cc43c" d="M131.8 325.75A90.45 90.45 0 0 1 133.61 506.64L133.79 515.68A99.5 99.5 0 0 0 131.8 316.7Z"/>
</g>
<g>
<path fill="#ff1414" d="M129.91 321.87A94.34 94.34 0 0 0 126.78 321.99L126.5 316.84A99.5 99.5 0 0 1 129.81 316.72Z"/>
<path fill="#ff2626" d="M124.9 322.11A94.34 94.34 0 0 0 121.77 322.39L121.22 317.26A99.5 99.5 0 0 1 124.52 316.97Z"/>
<path fill="#ff5959" d="M119.9 322.61A94.34 94.34 0 0 0 116.79 323.06L115.97 317.97A99.5 99.5 0 0 1 119.25 317.49Z"/>
<path fill="#ff6b6b" d="M114.93 323.38A94.34 94.34 0 0 0 111.86 323.99L110.77 318.95A99.5 99.5 0 0 1 114.01 318.3Z"/>
<path fill="#ff7a7a" d="M110.02 324.41A94.34 94.34 0 0 0 106.98 325.18L105.62 320.21A99.5 99.5 0 0 1 108.83 319.39Z"/>
<path fill="#ff7d7d" d="M105.16 325.69A94.34 94.34 0 0 0 102.17 326.63L100.55 321.73A99.5 99.5 0 0 1 103.71 320.75Z"/>
<path fill="#ff8181" d="M100.38 327.24A94.34 94.34 0 0 0 97.44 328.33L95.57 323.53A99.5 99.5 0 0 1 98.67 322.38Z"/>
<path fill="#ff8484" d="M95.69 329.04A94.34 94.34 0 0 0 92.82 330.29L90.69 325.59A99.5 99.5 0 0 1 93.72 324.28Z"/>
<path fill="#ff8787" d="M91.11 331.08A94.34 94.34 0 0 0 88.3 332.48L85.92 327.91A99.5 99.5 0 0 1 88.88 326.43Z"/>
<path fill="#ff8a8a" d="M86.63 333.37A94.34 94.34 0 0 0 83.9 334.92L81.29 330.48A99.5 99.5 0 0 1 84.16 328.84Z"/>
<path fill="#ff8d8d" d="M82.29 335.89A94.34 94.34 0 0 0 79.65 337.58L76.8 333.29A99.5 99.5 0 0 1 79.58 331.5Z"/>
<path fill="#ff9090" d="M78.08 338.64A94.34 94.34 0 0 0 75.54 340.47L72.46 336.33A99.5 99.5 0 0 1 75.15 334.4Z"/>
<path fill="#ff9393" d="M74.03 341.61A94.34 94.34 0 0 0 71.59 343.57L68.29 339.6A99.5 99.5 0 0 1 70.88 337.53Z"/>
<path fill="#ff9696" d="M70.14 344.79A94.34 94.34 0 0 0 67.81 346.88L64.31 343.09A99.5 99.5 0 0 1 66.78 340.89Z"/>
<path fill="#ff9999" d="M66.43 348.17A94.34 94.34 0 0 0 64.21 350.38L60.51 346.79A99.5 99.5 0 0 1 62.86 344.45Z"/>
<path fill="#ff9b9b" d="M62.9 351.75A94.34 94.34 0 0 0 60.8 354.07L56.92 350.68A99.5 99.5 0 0 1 59.14 348.23Z"/>
<path fill="#ff9c9c" d="M59.57 355.51A94.34 94.34 0 0 0 57.59 357.94L53.54 354.76A99.5 99.5 0 0 1 55.62 352.19Z"/>
<path fill="#ff9e9e" d="M56.44 359.44A94.34 94.34 0 0 0 54.6 361.97L50.38 359.01A99.5 99.5 0 0 1 52.32 356.33Z"/>
<path fill="#ffa0a0" d="M53.53 363.53A94.34 94.34 0 0 0 51.82 366.16L47.45 363.42A99.5 99.5 0 0 1 49.25 360.65Z"/>
<path fill="#ffa2a2" d="M50.84 367.77A94.34 94.34 0 0 0 49.27 370.49L44.76 367.99A99.5 99.5 0 0 1 46.41 365.12Z"/>
<path fill="#ffa3a3" d="M48.37 372.15A94.34 94.34 0 0 0 46.96 374.94L42.32 372.69A99.5 99.5 0 0 1 43.81 369.74Z"/>
<path fill="#ffa5a5" d="M46.15 376.65A94.34 94.34 0 0 0 44.88 379.52L40.13 377.51A99.5 99.5 0 0 1 41.47 374.49Z"/>
<path fill="#ffa7a7" d="M44.16 381.26A94.34 94.34 0 0 0 43.05 384.19L38.2 382.45A99.5 99.5 0 0 1 39.37 379.35Z"/>
<path fill="#ffa8a8" d="M42.43 385.98A94.34 94.34 0 0 0 41.47 388.96L36.54 387.48A99.5 99.5 0 0 1 37.54 384.32Z"/>
<path fill="#ffaaaa" d="M40.95 390.78A94.34 94.34 0 0 0 40.15 393.81L35.14 392.59A99.5 99.5 0 0 1 35.98 389.39Z"/>
<path fill="#ffacac" d="M39.72 395.65A94.34 94.34 0 0 0 39.09 398.72L34.02 397.76A99.5 99.5 0 0 1 34.69 394.52Z"/>
<path fill="#ffadad" d="M38.76 400.58A94.34 94.34 0 0 0 38.29 403.68L33.18 402.99A99.5 99.5 0 0 1 33.67 399.72Z"/>
<path fill="#ffafaf" d="M38.06 405.55A94.34 94.34 0 0 0 37.76 408.67L32.62 408.26A99.5 99.5 0 0 1 32.94 404.97Z"/>
<path fill="#ffb1b1" d="M37.62 410.55A94.34 94.34 0 0 0 37.49 413.69L32.34 413.55A99.5 99.5 0 0 1 32.48 410.25Z"/>
<path fill="#ffb2b2" d="M37.46 415.58A94.34 94.34 0 0 0 37.49 418.71L32.34 418.85A99.5 99.5 0 0 1 32.3 415.54Z"/>
<path fill="#ffb5b5" d="M37.56 420.6A94.34 94.34 0 0 0 37.76 423.73L32.62 424.14A99.5 99.5 0 0 1 32.41 420.84Z"/>
<path fill="#ffb7b7" d="M37.93 425.61A94.34 94.34 0 0 0 38.29 428.72L33.18 429.41A99.5 99.5 0 0 1 32.8 426.12Z"/>
<path fill="#ffb9b9" d="M38.56 430.59A94.34 94.34 0 0 0 39.09 433.68L34.02 434.64A99.5 99.5 0 0 1 33.46 431.38Z"/>
<path fill="#ffbbbb" d="M39.46 435.53A94.34 94.34 0 0 0 40.15 438.59L35.14 439.81A99.5 99.5 0 0 1 34.41 436.59Z"/>
<path fill="#ffbebe" d="M40.62 440.42A94.34 94.34 0 0 0 41.47 443.44L36.54 444.92A99.5 99.5 0 0 1 35.63 441.74Z"/>
<path fill="#ffc0c0" d="M42.04 445.24A94.34 94.34 0 0 0 43.05 448.21L38.2 449.95A99.5 99.5 0 0 1 37.13 446.82Z"/>
<path fill="#ffc2c2" d="M43.71 449.97A94.34 94.34 0 0 0 44.88 452.88L40.13 454.89A99.5 99.5 0 0 1 38.89 451.82Z"/>
<path fill="#ffc4c4" d="M45.63 454.61A94.34 94.34 0 0 0 46.96 457.46L42.32 459.71A99.5 99.5 0 0 1 40.92 456.71Z"/>
<path fill="#ffc6c6" d="M47.8 459.15A94.34 94.34 0 0 0 49.27 461.91L44.76 464.41A99.5 99.5 0 0 1 43.21 461.49Z"/>
<path fill="#ffc9c9" d="M50.2 463.56A94.34 94.34 0 0 0 51.82 466.24L47.45 468.98A99.5 99.5 0 0 1 45.74 466.14Z"/>
<path fill="#ffcbcb" d="M52.84 467.83A94.34 94.34 0 0 0 54.6 470.43L50.38 473.39A99.5 99.5 0 0 1 48.52 470.65Z"/>
<path fill="#ffcdcd" d="M55.7 471.96A94.34 94.34 0 0 0 57.59 474.46L53.54 477.64A99.5 99.5 0 0 1 51.54 475.01Z"/>
<path fill="#ffcfcf" d="M58.77 475.93A94.34 94.34 0 0 0 60.8 478.33L56.92 481.72A99.5 99.5 0 0 1 54.78 479.2Z"/>
<path fill="#ffd1d1" d="M62.06 479.73A94.34 94.34 0 0 0 64.21 482.02L60.51 485.61A99.5 99.5 0 0 1 58.24 483.21Z"/>
<path fill="#ffd4d4" d="M65.54 483.36A94.34 94.34 0 0 0 67.81 485.52L64.31 489.31A99.5 99.5 0 0 1 61.92 487.03Z"/>
<path fill="#ffd6d6" d="M69.2 486.79A94.34 94.34 0 0 0 71.59 488.83L68.29 492.8A99.5 99.5 0 0 1 65.78 490.65Z"/>
<path fill="#ffd9d9" d="M73.05 490.02A94.34 94.34 0 0 0 75.54 491.93L72.46 496.07A99.5 99.5 0 0 1 69.84 494.05Z"/>
<path fill="#ffdbdb" d="M77.06 493.04A94.34 94.34 0 0 0 79.65 494.82L76.8 499.11A99.5 99.5 0 0 1 74.07 497.24Z"/>
<path fill="#ffdede" d="M81.23 495.85A94.34 94.34 0 0 0 83.9 497.48L81.29 501.92A99.5 99.5 0 0 1 78.47 500.2Z"/>
<path fill="#ffe0e0" d="M85.54 498.42A94.34 94.34 0 0 0 88.3 499.92L85.92 504.49A99.5 99.5 0 0 1 83.01 502.92Z"/>
<path fill="#ffe3e3" d="M89.98 500.77A94.34 94.34 0 0 0 92.82 502.11L90.69 506.81A99.5 99.5 0 0 1 87.7 505.39Z"/>
<path fill="#ffe6e6" d="M94.54 502.88A94.34 94.34 0 0 0 97.44 504.07L95.57 508.87A99.5 99.5 0 0 1 92.51 507.61Z"/>
<path fill="#ffe8e8" d="M99.21 504.74A94.34 94.34 0 0 0 102.17 505.77L100.55 510.67A99.5 99.5 0 0 1 97.43 509.57Z"/>
<path fill="#ffeaea" d="M103.97 506.34A94.34 94.34 0 0 0 106.98 507.22L105.62 512.19A99.5 99.5 0 0 1 102.44 511.27Z"/>
<path fill="#ffebeb" d="M108.8 507.7A94.34 94.34 0 0 0 111.86 508.41L110.77 513.45A99.5 99.5 0 0 1 107.55 512.7Z"/>
<path fill="#ffeded" d="M113.71 508.79A94.34 94.34 0 0 0 116.79 509.34L115.97 514.43A99.5 99.5 0 0 1 112.72 513.85Z"/>
<path fill="#ffefef" d="M118.66 509.62A94.34 94.34 0 0 0 121.77 510.01L121.22 515.14A99.5 99.5 0 0 1 117.94 514.73Z"/>
<path fill="#fff1f1" d="M123.65 510.19A94.34 94.34 0 0 0 126.78 510.41L126.5 515.56A99.5 99.5 0 0 1 123.2 515.33Z"/>
<path fill="#fff2f2" d="M128.66 510.49A94.34 94.34 0 0 0 131.8 510.54L131.8 515.7A99.5 99.5 0 0 1 128.49 515.65Z"/>
</g>
<g font-size="6.6" fill="#1a1a1a" text-anchor="end">
<text transform="translate(129.08 315.77) rotate(87.9)" y="2.38">NDUFB8</text>
<text transform="translate(123.68 316.11) rotate(84.85)" y="2.38">NDUFA7</text>
<text transform="translate(118.31 316.74) rotate(81.8)" y="2.38">NDUFS3</text>
<text transform="translate(112.98 317.65) rotate(78.75)" y="2.38">UQCRFS1</text>
<text transform="translate(107.7 318.85) rotate(75.7)" y="2.38">SDHD</text>
<text transform="translate(102.5 320.32) rotate(72.65)" y="2.38">COX8A</text>
<text transform="translate(97.38 322.07) rotate(69.6)" y="2.38">UQCRC2</text>
<text transform="translate(92.36 324.09) rotate(66.55)" y="2.38">NDUFS7</text>
<text transform="translate(87.46 326.38) rotate(63.49)" y="2.38">NDUFA5</text>
<text transform="translate(82.68 328.92) rotate(60.44)" y="2.38">COX7A2</text>
<text transform="translate(78.05 331.71) rotate(57.39)" y="2.38">NDUFS5</text>
<text transform="translate(73.57 334.75) rotate(54.34)" y="2.38">NDUFB1</text>
<text transform="translate(69.26 338.02) rotate(51.29)" y="2.38">ATP5J</text>
<text transform="translate(65.13 341.51) rotate(48.24)" y="2.38">NDUFC2</text>
<text transform="translate(61.2 345.22) rotate(45.19)" y="2.38">CYCS</text>
<text transform="translate(57.46 349.13) rotate(42.14)" y="2.38">UBA7</text>
<text transform="translate(53.94 353.24) rotate(39.09)" y="2.38">ATP5B</text>
<text transform="translate(50.64 357.53) rotate(36.04)" y="2.38">NDUFA9</text>
<text transform="translate(47.58 361.98) rotate(32.99)" y="2.38">NDUFV3</text>
<text transform="translate(44.75 366.6) rotate(29.94)" y="2.38">NDUFB4</text>
<text transform="translate(42.18 371.36) rotate(26.88)" y="2.38">NDUFA6</text>
<text transform="translate(39.86 376.24) rotate(23.83)" y="2.38">NDUFC1</text>
<text transform="translate(37.81 381.25) rotate(20.78)" y="2.38">CASP3</text>
<text transform="translate(36.03 386.36) rotate(17.73)" y="2.38">UQCR11</text>
<text transform="translate(34.52 391.55) rotate(14.68)" y="2.38">NDUFS8</text>
<text transform="translate(33.29 396.82) rotate(11.63)" y="2.38">NDUFS1</text>
<text transform="translate(32.34 402.14) rotate(8.58)" y="2.38">COX6A1</text>
<text transform="translate(31.67 407.51) rotate(5.53)" y="2.38">GPR37</text>
<text transform="translate(31.29 412.91) rotate(2.48)" y="2.38">UQCRH</text>
<text transform="translate(31.21 418.32) rotate(-0.57)" y="2.38">NDUFV1</text>
<text transform="translate(31.4 423.72) rotate(-3.62)" y="2.38">COX7C</text>
<text transform="translate(31.89 429.11) rotate(-6.67)" y="2.38">NDUFS2</text>
<text transform="translate(32.66 434.46) rotate(-9.73)" y="2.38">COX4I1</text>
<text transform="translate(33.72 439.77) rotate(-12.78)" y="2.38">NDUFB6</text>
<text transform="translate(35.05 445.01) rotate(-15.83)" y="2.38">UCHL1</text>
<text transform="translate(36.67 450.17) rotate(-18.88)" y="2.38">ATP5H</text>
<text transform="translate(38.55 455.24) rotate(-21.93)" y="2.38">HTRA2</text>
<text transform="translate(40.7 460.21) rotate(-24.98)" y="2.38">UBE2J2</text>
<text transform="translate(43.12 465.05) rotate(-28.03)" y="2.38">NDUFA1</text>
<text transform="translate(45.79 469.75) rotate(-31.08)" y="2.38">SLC25A4</text>
<text transform="translate(48.7 474.31) rotate(-34.13)" y="2.38">NDUFA8</text>
<text transform="translate(51.85 478.7) rotate(-37.18)" y="2.38">NDUFA10</text>
<text transform="translate(55.24 482.92) rotate(-40.23)" y="2.38">NDUFB5</text>
<text transform="translate(58.84 486.96) rotate(-43.28)" y="2.38">NDUFAB1</text>
<text transform="translate(62.65 490.8) rotate(-46.34)" y="2.38">NDUFB3</text>
<text transform="translate(66.66 494.43) rotate(-49.39)" y="2.38">PPID</text>
<text transform="translate(70.86 497.84) rotate(-52.44)" y="2.38">NDUFA2</text>
<text transform="translate(75.24 501.02) rotate(-55.49)" y="2.38">ATP5E</text>
<text transform="translate(79.77 503.96) rotate(-58.54)" y="2.38">UBE2G1</text>
<text transform="translate(84.46 506.66) rotate(-61.59)" y="2.38">PARK7</text>
<text transform="translate(89.29 509.11) rotate(-64.64)" y="2.38">NDUFB10</text>
<text transform="translate(94.23 511.3) rotate(-67.69)" y="2.38">UBE2L3</text>
<text transform="translate(99.29 513.22) rotate(-70.74)" y="2.38">ATP5F1</text>
<text transform="translate(104.44 514.86) rotate(-73.79)" y="2.38">NDUFB9</text>
<text transform="translate(109.68 516.23) rotate(-76.84)" y="2.38">ATP5G3</text>
<text transform="translate(114.97 517.32) rotate(-79.89)" y="2.38">UBE2J1</text>
<text transform="translate(120.32 518.13) rotate(-82.95)" y="2.38">ATP5O</text>
<text transform="translate(125.71 518.65) rotate(-86)" y="2.38">NDUFS6</text>
<text transform="translate(131.11 518.89) rotate(-89.05)" y="2.38">TH</text>
</g>
<g fill="#111">
<text x="127" y="27.6" font-size="7.85">O-glycan biosynthesis</text>
<text x="127" y="36.6" font-size="6.2">NES = –1.64, FDR = 0.126</text>
<text x="187.7" y="55.4" font-size="7.85">Basal transcription</text>
<text x="187.7" y="63.9" font-size="7.85">factors</text>
<text x="187.7" y="72" font-size="6.2">NES = –1.55</text>
<text x="187.7" y="78.8" font-size="6.2">FDR = 0.139</text>
<text x="207.8" y="125.6" font-size="7.85">Long term</text>
<text x="207.8" y="133.8" font-size="7.85">potentiation</text>
<text x="207.8" y="142.7" font-size="6.2">NES = –1.71</text>
<text x="207.8" y="149.4" font-size="6.2">FDR = 0.159</text>
<text x="143.5" y="225.8" font-size="7.85">Long term depression</text>
<text x="143.5" y="234.7" font-size="6.2">NES = –1.56, FDR = 0.176</text>
</g>
<path d="M132.9 39L132.9 44" stroke="#000" stroke-width="1" fill="none"/><path d="M132.9 48L130.8 43L135 43Z" fill="#000"/>
<path d="M183.4 52L169.63 58.41" stroke="#000" stroke-width="1" fill="none"/><path d="M166 60.1L169.65 56.09L171.42 59.89Z" fill="#000"/>
<path d="M172.2 217.3L172.2 208.5" stroke="#000" stroke-width="1" fill="none"/><path d="M172.2 204.5L174.3 209.5L170.1 209.5Z" fill="#000"/>
<rect x="348.5" y="93.5" width="70.9" height="28.5" fill="#fff" fill-opacity="0.75"/>
<rect x="344.7" y="163.3" width="81.1" height="28.4" fill="#fff" fill-opacity="0.75"/>
<g fill="#111" text-anchor="middle">
<text x="384" y="102.2" font-size="7.85">Sphingolipid</text>
<text x="384" y="110.6" font-size="7.85">metabolism</text>
<text x="384" y="118.9" font-size="6.2">NES = 1.7, FDR = 0.201</text>
<text x="385.2" y="172" font-size="7.85">Valine leucine and</text>
<text x="385.2" y="180.2" font-size="7.85">isoleucine degradation</text>
<text x="385.2" y="188.6" font-size="6.2">NES = –1.7, FDR = 0.216</text>
</g>
<rect x="138.3" y="399.1" width="79.8" height="24.3" fill="#fff" fill-opacity="0.8"/>
<g fill="#111" text-anchor="middle">
<text x="178.2" y="409" font-size="7.9">Parkinson’s disease</text>
<text x="178.2" y="418.6" font-size="6.2">NES = 1.67, FDR = 0.165</text>
</g>
<rect x="147.4" y="524.1" width="7.66" height="10.2" fill="#0000ff"/>
<rect x="154.76" y="524.1" width="7.66" height="10.2" fill="#2424ff"/>
<rect x="162.12" y="524.1" width="7.66" height="10.2" fill="#4949ff"/>
<rect x="169.48" y="524.1" width="7.66" height="10.2" fill="#6d6dff"/>
<rect x="176.84" y="524.1" width="7.66" height="10.2" fill="#9292ff"/>
<rect x="184.2" y="524.1" width="7.66" height="10.2" fill="#b6b6ff"/>
<rect x="191.56" y="524.1" width="7.66" height="10.2" fill="#dbdbff"/>
<rect x="198.92" y="524.1" width="7.66" height="10.2" fill="#ffffff"/>
<rect x="206.28" y="524.1" width="7.66" height="10.2" fill="#ffdbdb"/>
<rect x="213.64" y="524.1" width="7.66" height="10.2" fill="#ffb6b6"/>
<rect x="221" y="524.1" width="7.66" height="10.2" fill="#ff9292"/>
<rect x="228.36" y="524.1" width="7.66" height="10.2" fill="#ff6d6d"/>
<rect x="235.72" y="524.1" width="7.66" height="10.2" fill="#ff4949"/>
<rect x="243.08" y="524.1" width="7.66" height="10.2" fill="#ff2424"/>
<rect x="250.44" y="524.1" width="7.36" height="10.2" fill="#ff0000"/>
<text x="202.2" y="531.6" font-size="6.4" text-anchor="middle" fill="#111">Log<tspan dy="1.5" font-size="5">2</tspan><tspan dy="-1.5"> Fold Change</tspan></text>
<g font-size="6.4" text-anchor="middle" fill="#111">
<text x="150.8" y="543">–0.6</text>
<text x="165" y="543">–0.4</text>
<text x="179" y="543">–0.2</text>
<text x="202" y="543">0</text>
<text x="223.6" y="543">0.2</text>
<text x="238.5" y="543">0.4</text>
<text x="252.8" y="543">0.6</text>
</g>
<g>
<rect x="312.8" y="353" width="26.4" height="90.2" fill="#4d4d4d" stroke="#111" stroke-width="0.7"/>
<rect x="345.8" y="351.9" width="26.3" height="91.3" fill="#4d4d4d" stroke="#111" stroke-width="0.7"/>
<rect x="378.1" y="329" width="26.4" height="114.2" fill="#4d4d4d" stroke="#111" stroke-width="0.7"/>
<rect x="411" y="309.8" width="26" height="133.4" fill="#4d4d4d" stroke="#111" stroke-width="0.7"/>
<path d="M310.5 298.4V443.2H440" stroke="#000" stroke-width="0.8" fill="none"/>
<path d="M310.5 298.4h-3M310.5 327.36h-3M310.5 356.32h-3M310.5 385.28h-3M310.5 414.24h-3M310.5 443.2h-3M310.5 312.88h-1.8M310.5 341.84h-1.8M310.5 370.8h-1.8M310.5 399.76h-1.8M310.5 428.72h-1.8M342.5 443.2v2.5M375 443.2v2.5M407.5 443.2v2.5M439.6 443.2v2.5" stroke="#000" stroke-width="0.7" fill="none"/>
<g font-size="6.6" text-anchor="end" fill="#111">
<text x="305.4" y="300.75">11.0</text>
<text x="305.4" y="329.71">10.9</text>
<text x="305.4" y="358.67">10.8</text>
<text x="305.4" y="387.63">10.7</text>
<text x="305.4" y="416.59">10.6</text>
<text x="305.4" y="445.55">10.5</text>
</g>
<g font-size="7.7" text-anchor="middle" fill="#111">
<text x="326" y="452.6">+15D</text>
<text x="326" y="461.4">lens</text>
<text x="358.6" y="452.6">+15D</text>
<text x="358.6" y="461.4">fellow</text>
<text x="391.3" y="452.6">–15D</text>
<text x="391.3" y="461.4">fellow</text>
<text x="424" y="452.6">–15D</text>
<text x="424" y="461.4">lens</text>
</g>
<text transform="translate(288 371.3) rotate(-90)" font-size="7.95" text-anchor="middle" fill="#111">Median Log2 LES Expression</text>
<path d="M326.2 350V302.9H424V308.7" stroke="#444" stroke-width="0.9" fill="none"/>
<text x="375" y="309.2" font-size="17" text-anchor="middle" font-weight="bold" fill="#000">*</text>
</g>
</svg>
</body>
</html>
